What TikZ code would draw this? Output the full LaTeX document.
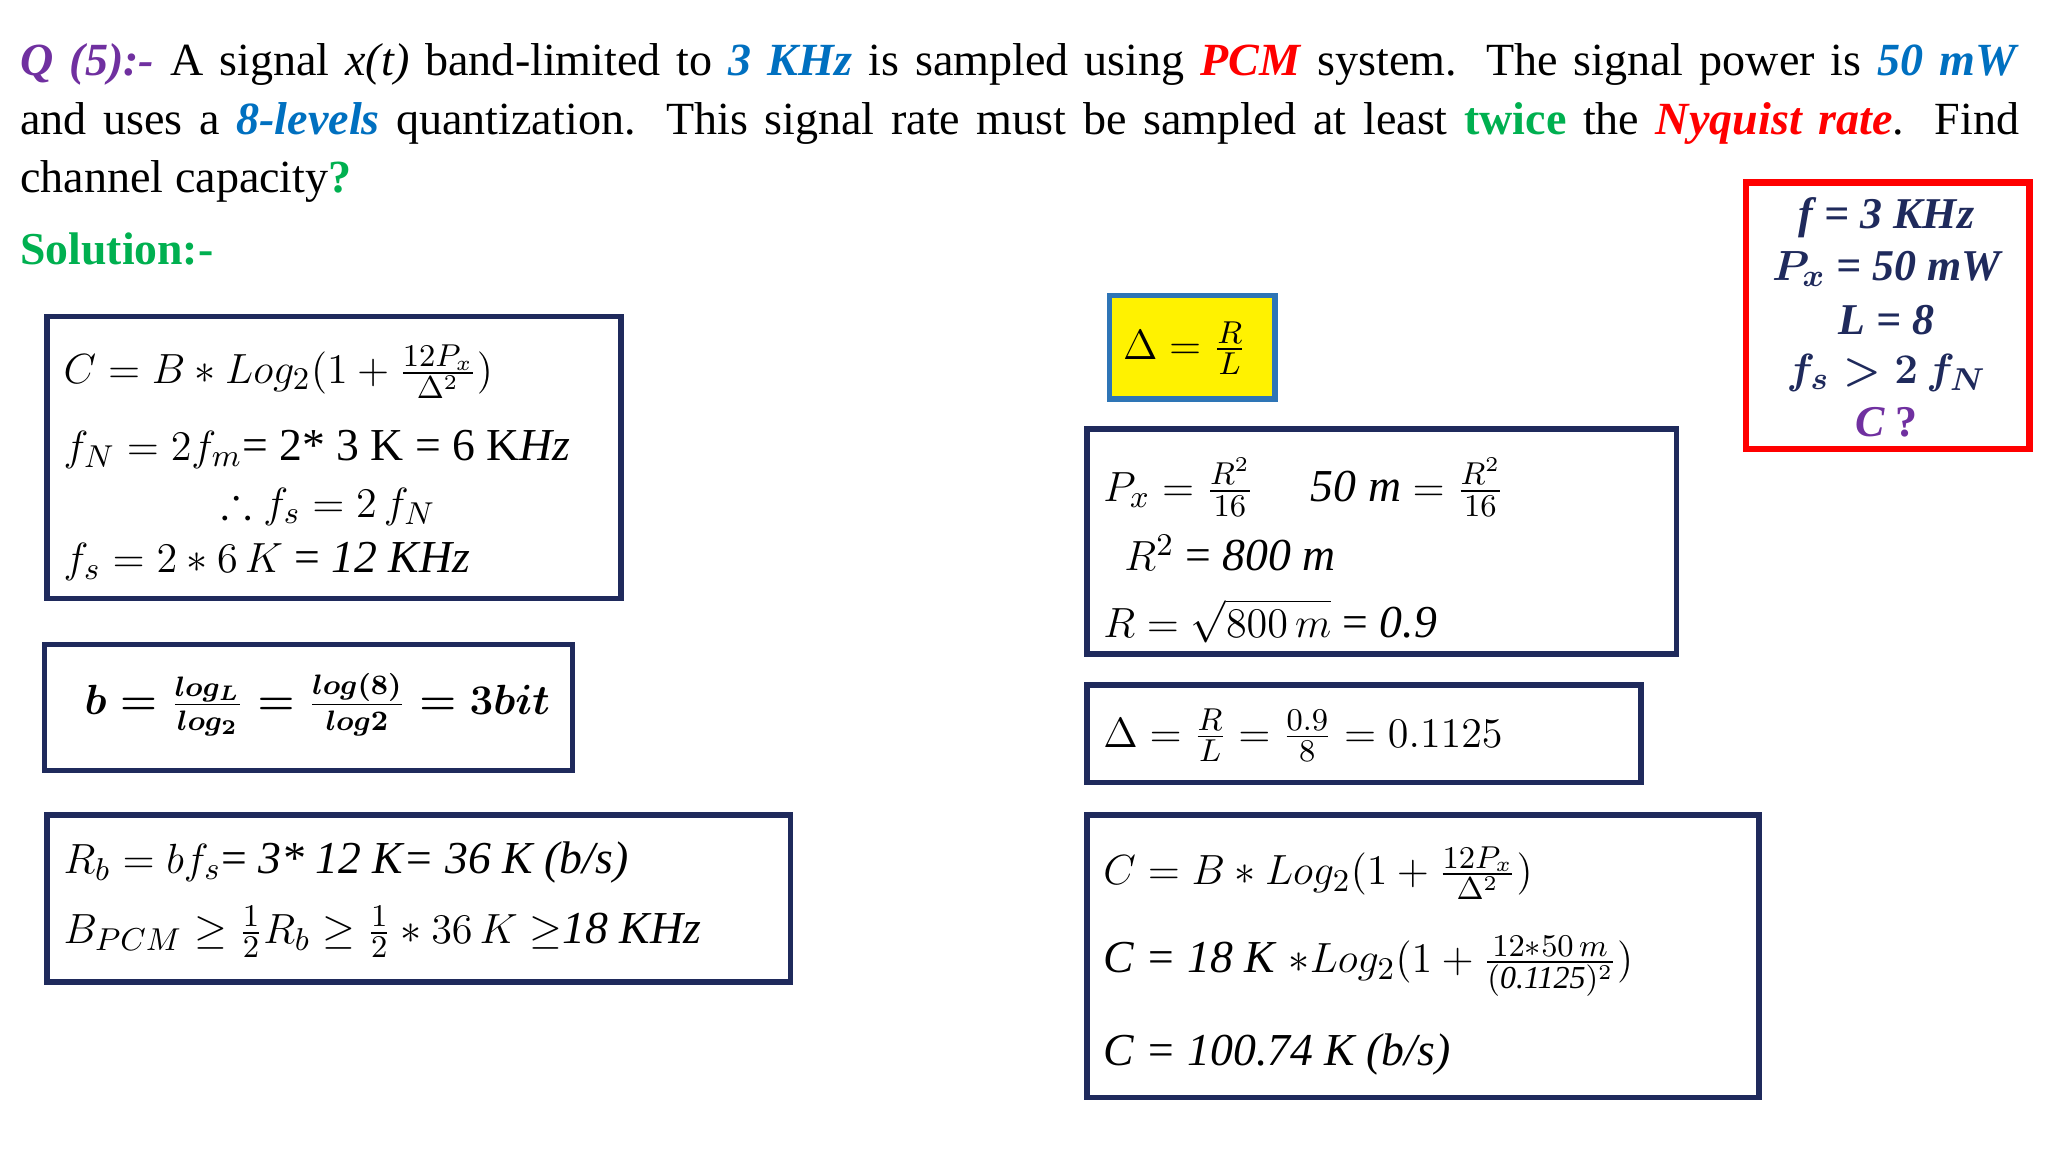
\documentclass[tikz,border=0pt]{standalone}
\usepackage{amsmath,amssymb}
\usepackage{fontspec}
\setmainfont{Liberation Serif}
\definecolor{qpur}{HTML}{7030A0}
\definecolor{qblue}{HTML}{0070C0}
\definecolor{qgreen}{HTML}{00B050}
\definecolor{navy}{HTML}{1F2A5C}
\definecolor{ybord}{HTML}{2E75B6}
\begin{document}
\begin{tikzpicture}[x=0.013128cm,y=-0.013128cm,
 bx/.style={draw=navy,line width=1.6pt},
 tx/.style={anchor=west,inner sep=0pt,font=\fontsize{13}{15}\selectfont},
 rt/.style={inner sep=0pt,text=navy,font=\fontsize{12.5}{14}\selectfont\bfseries\itshape}]
\useasboundingbox (0,0) rectangle (1560,877);
\fill[white] (0,0) rectangle (1560,877);
\node[anchor=north west,inner sep=0pt,text width=19.98cm,align=justify,font=\fontsize{13.1}{16.5}\selectfont] (q) at (15,33)
{\textcolor{qpur}{\textbf{\textit{Q (5):-}}} A signal \textit{x(t)} band-limited to \textcolor{qblue}{\textbf{\textit{3 KHz}}} is sampled using \textcolor{red}{\textbf{\textit{PCM}}} system. The signal power is \textcolor{qblue}{\textbf{\textit{50 mW}}}\linebreak and uses a \textcolor{qblue}{\textbf{\textit{8-levels}}} quantization. This signal rate must be sampled at least \textcolor{qgreen}{\textbf{twice}} the \textcolor{red}{\textbf{\textit{Nyquist rate}}}. Find\linebreak channel capacity\textcolor{qgreen}{\textbf{?}}};
\node[anchor=west,inner sep=0pt,text=qgreen,font=\fontsize{13}{15}\selectfont\bfseries] (sol) at (15,190) {Solution:-};
% box 1
\draw[bx] (36,241) rectangle (473,456);
\node[tx] (a1) at (48,283) {$C = B * Log_2(1+\frac{12P_x}{\Delta^2})$};
\node[tx] (a2) at (48,342) {$f_N=2f_m$= 2* 3 K = 6 K\textit{Hz}};
\node[tx] (a3) at (168,385) {$\therefore f_s = 2\,f_N$};
\node[tx] (a4) at (48,428) {$f_s = 2*6\,K$ = \textit{12 KHz}};
% box 2
\draw[bx] (34,491) rectangle (436,587);
\node[tx,font=\fontsize{12}{14}\selectfont] (b1) at (64,537) {$\boldsymbol{b=\frac{log_L}{log_2}=\frac{log(8)}{log2}=3bit}$};
% box 3
\draw[bx] (36,621) rectangle (602,748);
\node[tx] (c1) at (48,657) {$R_b = bf_s$= \textit{3* 12 K= 36 K (b/s)}};
\node[tx] (c2) at (48,710) {$B_{PCM}\geq\frac12 R_b\geq\frac12*36\,K\geq$\textit{18 KHz}};
% yellow
\draw[draw=ybord,line width=1.6pt,fill=yellow] (845,225) rectangle (971,304);
\node[tx] (y1) at (855,265) {$\Delta=\frac{R}{L}$};
% box 5
\draw[bx] (828,327) rectangle (1277,498);
\node[tx] (d1) at (840,371) {$P_x =\frac{R^2}{16}\quad$ \textit{50 m} $=\frac{R^2}{16}$};
\node[tx] (d2) at (856,421) {$R^2$ = \textit{800 m}};
\node[tx] (d3) at (840,473) {$R=\sqrt{800\,m}$ = \textit{0.9}};
% box 6
\draw[bx] (828,522) rectangle (1250,596);
\node[tx] (e1) at (840,560) {$\Delta =\frac{R}{L}=\frac{0.9}{8}=0.1125$};
% box 7
\draw[bx] (828,621) rectangle (1340,836);
\node[tx] (f1) at (840,665) {$C = B * Log_2(1+\frac{12P_x}{\Delta^2})$};
\node[tx] (f2) at (840,736) {\textit{C = 18 K} $* Log_2(1+\frac{12*50\,m}{(\textit{0.1125})^2})$};
\node[tx] (f3) at (840,803) {\textit{C = 100.74 K (b/s)}};
% red box
\draw[red,line width=1.8pt] (1330,139) rectangle (1546,342);
\node[rt] (r1) at (1437,166) {f = 3 KHz};
\node[rt] (r2) at (1437,205) {$\boldsymbol{P_x}$ = 50 mW};
\node[rt] (r3) at (1437,244) {L = 8};
\node[rt] (r4) at (1437,284) {$\boldsymbol{f_s >2\,f_N}$};
\node[rt,text=qpur] (r5) at (1437,322) {C \textup{?}};
\end{tikzpicture}
\end{document}
